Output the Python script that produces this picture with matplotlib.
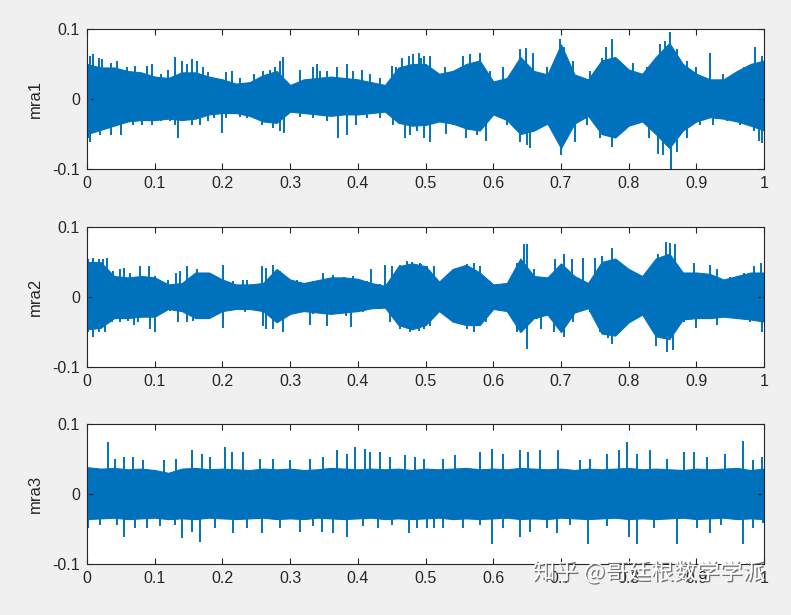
import matplotlib.pyplot as plt
import matplotlib.patheffects as pe
import numpy as np

plt.rcParams['font.family'] = ['Liberation Sans', 'DejaVu Sans']

# envelope of each decomposition level, read every 0.02 s
t = np.linspace(0, 1, 51)

mra1_upper = [0.050, 0.045, 0.045, 0.040, 0.038, 0.032, 0.030, 0.038, 0.038, 0.032,
              0.028, 0.022, 0.024, 0.034, 0.040, 0.020, 0.028, 0.030, 0.032, 0.030,
              0.028, 0.024, 0.020, 0.045, 0.050, 0.050, 0.036, 0.040, 0.050, 0.055,
              0.025, 0.030, 0.060, 0.040, 0.035, 0.078, 0.035, 0.028, 0.055, 0.060,
              0.042, 0.036, 0.060, 0.080, 0.050, 0.036, 0.028, 0.028, 0.040, 0.050, 0.055]
mra1_lower = [-0.050, -0.044, -0.038, -0.032, -0.030, -0.030, -0.028, -0.030, -0.028, -0.022,
              -0.020, -0.020, -0.024, -0.032, -0.034, -0.018, -0.020, -0.022, -0.024, -0.022,
              -0.022, -0.020, -0.018, -0.034, -0.038, -0.037, -0.032, -0.035, -0.042, -0.045,
              -0.022, -0.030, -0.050, -0.045, -0.035, -0.070, -0.035, -0.024, -0.050, -0.055,
              -0.038, -0.032, -0.050, -0.070, -0.045, -0.032, -0.026, -0.028, -0.032, -0.038, -0.045]

mra2_upper = [0.050, 0.050, 0.030, 0.028, 0.030, 0.028, 0.018, 0.020, 0.035, 0.035,
              0.025, 0.018, 0.018, 0.020, 0.040, 0.025, 0.020, 0.024, 0.028, 0.028,
              0.026, 0.020, 0.016, 0.044, 0.048, 0.044, 0.022, 0.040, 0.046, 0.035,
              0.018, 0.020, 0.055, 0.030, 0.028, 0.048, 0.030, 0.020, 0.050, 0.055,
              0.040, 0.030, 0.055, 0.062, 0.035, 0.035, 0.033, 0.025, 0.030, 0.035, 0.035]
mra2_lower = [-0.046, -0.044, -0.030, -0.030, -0.028, -0.028, -0.017, -0.020, -0.030, -0.030,
              -0.020, -0.017, -0.017, -0.020, -0.036, -0.024, -0.020, -0.022, -0.024, -0.022,
              -0.020, -0.016, -0.015, -0.040, -0.046, -0.040, -0.020, -0.035, -0.040, -0.040,
              -0.017, -0.020, -0.050, -0.030, -0.025, -0.050, -0.022, -0.016, -0.052, -0.055,
              -0.036, -0.025, -0.056, -0.060, -0.032, -0.030, -0.030, -0.028, -0.030, -0.032, -0.035]

mra3_upper = [0.038, 0.036, 0.037, 0.035, 0.036, 0.034, 0.030, 0.036, 0.037, 0.035,
              0.036, 0.035, 0.034, 0.036, 0.035, 0.036, 0.034, 0.035, 0.037, 0.036,
              0.035, 0.036, 0.035, 0.036, 0.034, 0.036, 0.035, 0.036, 0.037, 0.035,
              0.036, 0.035, 0.037, 0.036, 0.035, 0.036, 0.034, 0.036, 0.035, 0.036,
              0.037, 0.035, 0.036, 0.035, 0.034, 0.036, 0.035, 0.036, 0.037, 0.034, 0.036]
mra3_lower = [-0.036, -0.035, -0.034, -0.036, -0.035, -0.034, -0.036, -0.035, -0.036, -0.034,
              -0.035, -0.036, -0.035, -0.034, -0.036, -0.035, -0.036, -0.034, -0.035, -0.036,
              -0.035, -0.034, -0.036, -0.035, -0.036, -0.035, -0.034, -0.036, -0.035, -0.036,
              -0.035, -0.034, -0.036, -0.035, -0.036, -0.034, -0.035, -0.036, -0.035, -0.034,
              -0.036, -0.035, -0.036, -0.035, -0.034, -0.036, -0.035, -0.034, -0.036, -0.035, -0.036]

# single oscillations sticking out of the envelope (time, value)
mra1_peaks = [
    (0.000, 0.078), (0.005, 0.062), (0.009, 0.064), (0.017, 0.059), (0.022, 0.057),
    (0.036, 0.052), (0.044, 0.054), (0.059, 0.045), (0.071, 0.047), (0.088, 0.047),
    (0.096, 0.050), (0.110, 0.035), (0.120, 0.042), (0.130, 0.060), (0.140, 0.054),
    (0.147, 0.050), (0.155, 0.057), (0.162, 0.054), (0.172, 0.045), (0.179, 0.038),
    (0.206, 0.038), (0.214, 0.040), (0.226, 0.030), (0.246, 0.035), (0.260, 0.040),
    (0.270, 0.042), (0.277, 0.045), (0.285, 0.054), (0.290, 0.060), (0.315, 0.042),
    (0.334, 0.045), (0.340, 0.050), (0.344, 0.040), (0.354, 0.040), (0.369, 0.045),
    (0.384, 0.050), (0.393, 0.040), (0.406, 0.042), (0.418, 0.035), (0.433, 0.030),
    (0.450, 0.047), (0.457, 0.045), (0.465, 0.059), (0.475, 0.062), (0.482, 0.064),
    (0.490, 0.066), (0.497, 0.062),
    (0.494, 0.059), (0.506, 0.062), (0.529, 0.045), (0.536, 0.035), (0.556, 0.062),
    (0.566, 0.064), (0.580, 0.066), (0.595, 0.040), (0.615, 0.045), (0.640, 0.071),
    (0.649, 0.073), (0.659, 0.066), (0.679, 0.045), (0.699, 0.086), (0.704, 0.074),
    (0.718, 0.054), (0.743, 0.040), (0.760, 0.059), (0.767, 0.074), (0.775, 0.086),
    (0.787, 0.054), (0.807, 0.052), (0.827, 0.045), (0.846, 0.078), (0.854, 0.083),
    (0.861, 0.095), (0.871, 0.071), (0.886, 0.054), (0.900, 0.045), (0.920, 0.066),
    (0.940, 0.035), (0.955, 0.035), (0.970, 0.045), (0.987, 0.074), (0.997, 0.062),
    (0.002, -0.056), (0.005, -0.062), (0.012, -0.046), (0.019, -0.051), (0.027, -0.042),
    (0.036, -0.051), (0.044, -0.037), (0.050, -0.052), (0.054, -0.032), (0.068, -0.037),
    (0.081, -0.037), (0.096, -0.037), (0.110, -0.032), (0.123, -0.032), (0.130, -0.037),
    (0.135, -0.055), (0.155, -0.037), (0.167, -0.037), (0.179, -0.032), (0.187, -0.027),
    (0.200, -0.048), (0.206, -0.027), (0.226, -0.025), (0.236, -0.027), (0.258, -0.037),
    (0.275, -0.042), (0.285, -0.046), (0.291, -0.048), (0.315, -0.025), (0.334, -0.027),
    (0.354, -0.032), (0.370, -0.055), (0.384, -0.051), (0.398, -0.037), (0.413, -0.027),
    (0.433, -0.027), (0.452, -0.037), (0.470, -0.055), (0.477, -0.051), (0.487, -0.046),
    (0.497, -0.056),
    (0.507, -0.061), (0.526, -0.032), (0.530, -0.050), (0.541, -0.037), (0.560, -0.055),
    (0.576, -0.051), (0.590, -0.060), (0.620, -0.037), (0.640, -0.061), (0.650, -0.065),
    (0.654, -0.070), (0.679, -0.037), (0.700, -0.080), (0.709, -0.051), (0.720, -0.062),
    (0.738, -0.037), (0.758, -0.056), (0.776, -0.068), (0.787, -0.046), (0.807, -0.037),
    (0.830, -0.055), (0.844, -0.078), (0.850, -0.080), (0.862, -0.100), (0.871, -0.075),
    (0.886, -0.056), (0.906, -0.037), (0.925, -0.037), (0.945, -0.032), (0.965, -0.037),
    (0.985, -0.046), (0.992, -0.060), (0.997, -0.063)]

mra2_peaks = [
    (0.002, 0.054), (0.009, 0.056), (0.017, 0.054), (0.024, 0.054), (0.029, 0.056),
    (0.039, 0.037), (0.049, 0.040), (0.054, 0.042), (0.064, 0.035), (0.078, 0.044),
    (0.091, 0.044), (0.100, 0.030), (0.108, 0.023), (0.120, 0.025), (0.132, 0.035),
    (0.137, 0.037), (0.147, 0.044), (0.162, 0.040), (0.177, 0.035), (0.187, 0.023),
    (0.201, 0.045), (0.216, 0.023), (0.231, 0.025), (0.236, 0.025), (0.258, 0.044),
    (0.265, 0.042), (0.275, 0.045), (0.285, 0.037), (0.310, 0.025), (0.334, 0.023),
    (0.349, 0.035), (0.364, 0.032), (0.379, 0.028), (0.393, 0.030), (0.413, 0.023),
    (0.420, 0.040), (0.433, 0.018), (0.440, 0.045), (0.450, 0.044), (0.462, 0.046),
    (0.472, 0.051), (0.480, 0.050), (0.492, 0.049),
    (0.494, 0.047), (0.502, 0.044), (0.512, 0.044), (0.546, 0.040), (0.561, 0.047),
    (0.571, 0.049), (0.580, 0.044), (0.595, 0.023), (0.635, 0.049), (0.645, 0.075),
    (0.650, 0.075), (0.660, 0.040), (0.679, 0.025), (0.691, 0.054), (0.704, 0.061),
    (0.716, 0.054), (0.733, 0.055), (0.750, 0.056), (0.760, 0.058), (0.775, 0.070),
    (0.787, 0.044), (0.812, 0.030), (0.832, 0.035), (0.844, 0.061), (0.855, 0.078),
    (0.861, 0.077), (0.868, 0.075), (0.881, 0.035), (0.896, 0.049), (0.910, 0.035),
    (0.920, 0.045), (0.930, 0.040), (0.950, 0.028), (0.970, 0.035), (0.985, 0.044),
    (0.995, 0.049),
    (0.002, -0.050), (0.009, -0.057), (0.017, -0.050), (0.027, -0.050), (0.037, -0.036),
    (0.049, -0.036), (0.061, -0.034), (0.070, -0.040), (0.076, -0.036), (0.093, -0.046),
    (0.100, -0.050), (0.108, -0.022), (0.123, -0.020), (0.135, -0.036), (0.147, -0.036),
    (0.157, -0.034), (0.182, -0.020), (0.201, -0.044), (0.206, -0.017), (0.233, -0.022),
    (0.260, -0.041), (0.265, -0.045), (0.275, -0.046), (0.290, -0.050), (0.310, -0.022),
    (0.330, -0.040), (0.334, -0.024), (0.354, -0.041), (0.383, -0.027), (0.390, -0.043),
    (0.408, -0.022), (0.433, -0.017), (0.448, -0.036), (0.462, -0.046), (0.477, -0.050),
    (0.490, -0.048), (0.497, -0.046), (0.507, -0.041), (0.526, -0.020), (0.546, -0.036),
    (0.561, -0.046), (0.571, -0.050), (0.590, -0.036), (0.615, -0.017), (0.635, -0.050),
    (0.650, -0.074), (0.664, -0.031), (0.670, -0.045), (0.689, -0.050), (0.704, -0.057),
    (0.718, -0.036), (0.743, -0.022), (0.758, -0.050), (0.770, -0.058), (0.775, -0.067),
    (0.792, -0.036), (0.817, -0.027), (0.837, -0.050), (0.840, -0.070), (0.856, -0.078),
    (0.866, -0.076), (0.881, -0.036), (0.900, -0.044), (0.918, -0.031), (0.930, -0.040),
    (0.960, -0.031), (0.979, -0.036), (0.997, -0.050)]

mra3_peaks = [
    (0.000, 0.065), (0.031, 0.074), (0.041, 0.050), (0.054, 0.052), (0.068, 0.052),
    (0.083, 0.048), (0.113, 0.048), (0.132, 0.050), (0.155, 0.062), (0.170, 0.057),
    (0.182, 0.052), (0.204, 0.067), (0.214, 0.060), (0.231, 0.060), (0.256, 0.050),
    (0.275, 0.050), (0.300, 0.048), (0.330, 0.050), (0.349, 0.052), (0.369, 0.062),
    (0.384, 0.057), (0.396, 0.067), (0.411, 0.064), (0.418, 0.060), (0.433, 0.060),
    (0.448, 0.052), (0.470, 0.055), (0.485, 0.052),
    (0.002, -0.049), (0.019, -0.044), (0.044, -0.044), (0.054, -0.061), (0.071, -0.049),
    (0.088, -0.049), (0.108, -0.046), (0.130, -0.044), (0.140, -0.063), (0.155, -0.054),
    (0.167, -0.068), (0.189, -0.049), (0.216, -0.056), (0.236, -0.049), (0.258, -0.056),
    (0.285, -0.049), (0.315, -0.054), (0.334, -0.046), (0.347, -0.054), (0.364, -0.056),
    (0.384, -0.061), (0.408, -0.046), (0.430, -0.049), (0.450, -0.044), (0.475, -0.056),
    (0.487, -0.049),
    (0.497, 0.050), (0.526, 0.050), (0.543, 0.055), (0.580, 0.060), (0.598, 0.064),
    (0.615, 0.057), (0.640, 0.062), (0.652, 0.060), (0.669, 0.062), (0.696, 0.062),
    (0.728, 0.048), (0.743, 0.050), (0.768, 0.057), (0.785, 0.062), (0.798, 0.074),
    (0.812, 0.057), (0.832, 0.062), (0.856, 0.050), (0.881, 0.060), (0.896, 0.060),
    (0.915, 0.052), (0.942, 0.057), (0.969, 0.076), (0.984, 0.048), (0.997, 0.052),
    (0.502, -0.049), (0.512, -0.049), (0.526, -0.049), (0.556, -0.049), (0.580, -0.044),
    (0.598, -0.072), (0.615, -0.049), (0.640, -0.061), (0.654, -0.054), (0.679, -0.049),
    (0.694, -0.056), (0.713, -0.044), (0.740, -0.072), (0.768, -0.046), (0.800, -0.061),
    (0.812, -0.072), (0.837, -0.049), (0.871, -0.072), (0.901, -0.049), (0.920, -0.056),
    (0.937, -0.044), (0.969, -0.072), (0.984, -0.049), (0.999, -0.042)]

names = ['mra1', 'mra2', 'mra3']
uppers = [mra1_upper, mra2_upper, mra3_upper]
lowers = [mra1_lower, mra2_lower, mra3_lower]
peaks = [mra1_peaks, mra2_peaks, mra3_peaks]

x_ticks = [0, 0.1, 0.2, 0.3, 0.4, 0.5, 0.6, 0.7, 0.8, 0.9, 1]
x_labels = ['0', '0.1', '0.2', '0.3', '0.4', '0.5', '0.6', '0.7', '0.8', '0.9', '1']
y_ticks = [-0.1, 0, 0.1]
y_labels = ['-0.1', '0', '0.1']

blue = '#0072BD'

fig = plt.figure(figsize=(7.91, 6.15), dpi=100, facecolor='#f0f0f0')
bottoms = [0.725, 0.403, 0.083]

for i in range(3):
    ax = fig.add_axes([0.110, bottoms[i], 0.856, 0.228])
    ax.fill_between(t, lowers[i], uppers[i], color=blue, lw=0.8)
    pt = np.array(peaks[i])
    ax.vlines(pt[:, 0], 0, pt[:, 1], color=blue, lw=1.4)
    ax.set_xlim(0, 1)
    ax.set_ylim(-0.1, 0.1)
    ax.set_xticks(x_ticks)
    ax.set_xticklabels(x_labels)
    ax.set_yticks(y_ticks)
    ax.set_yticklabels(y_labels)
    ax.tick_params(direction='in', top=True, right=True, length=4, width=0.8,
                   labelsize=11.5, colors='#262626', pad=5)
    for s in ax.spines.values():
        s.set_color('#262626')
        s.set_linewidth(0.8)
    ax.set_ylabel(names[i], fontsize=12, color='#262626', labelpad=7)

# watermark
fig.text(0.673, 0.058, '知乎 @哥廷根数学学派', fontsize=16.5, color='white',
         family=['Noto Sans CJK SC', 'DejaVu Sans'], zorder=10,
         path_effects=[pe.withSimplePatchShadow(offset=(1, -1), shadow_rgbFace='#555555', alpha=0.8)])

plt.savefig('out.png', dpi=100, facecolor=fig.get_facecolor())
